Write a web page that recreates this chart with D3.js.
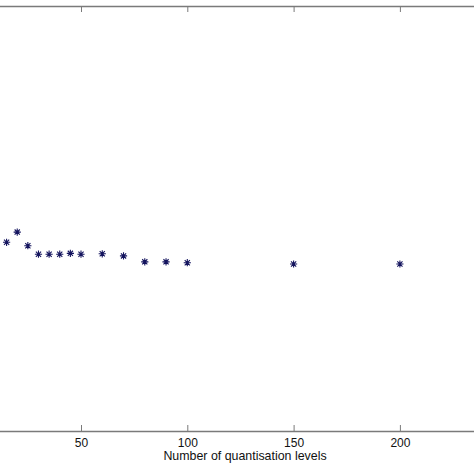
<!DOCTYPE html>
<html><head><meta charset="utf-8">
<script src="https://cdn.jsdelivr.net/npm/d3@7"></script>
<style>body{margin:0;background:#fff}svg{display:block}</style>
</head><body>
<script>
const levels = [10, 15, 20, 25, 30, 35, 40, 45, 50, 60, 70, 80, 90, 100, 150, 200];
const values = [0.492, 0.444, 0.468, 0.436, 0.416, 0.416, 0.416, 0.418, 0.416, 0.417, 0.412, 0.398, 0.398, 0.396, 0.393, 0.393];
const xTicks = [50, 100, 150, 200];
const xLabel = "Number of quantisation levels";

(function () {
const W = 474, H = 474;
const svg = d3.select("body").append("svg").attr("width", W).attr("height", H);
svg.append("rect").attr("width", W).attr("height", H).attr("fill", "#fff");

const x = d3.scaleLinear().domain([0, 250]).range([-25.3, 506.2]);
const y = d3.scaleLinear().domain([0, 1]).range([431, 6]);

const axisColor = "#7a7a7a";
const font = "'Liberation Sans', Arial, sans-serif";

const gBottom = svg.append("g").attr("transform", `translate(0,${y(0)})`)
  .call(d3.axisBottom(x).tickValues(xTicks).tickSize(-6).tickPadding(7).tickFormat(d3.format("d")));
const gTop = svg.append("g").attr("transform", `translate(0,${y(1)})`)
  .call(d3.axisTop(x).tickValues(xTicks).tickSize(-6).tickFormat(""));

[gBottom, gTop].forEach(g => {
  g.select(".domain").attr("stroke", axisColor).attr("stroke-width", 1.3);
  g.selectAll(".tick line").attr("stroke", axisColor).attr("stroke-width", 1);
  g.selectAll(".tick text").attr("fill", "#111").style("font-family", font).style("font-size", "12px");
});

svg.append("text").attr("x", 245).attr("y", 460).attr("text-anchor", "middle")
  .style("font-family", font).style("font-size", "12.4px").attr("fill", "#111").text(xLabel);

const r = 3.6, d = r * 0.72;
const star = `M${-r},0L${r},0M0,${-r}L0,${r}M${-d},${-d}L${d},${d}M${-d},${d}L${d},${-d}`;
svg.append("g").selectAll("path").data(levels.map((l, i) => [l, values[i]])).join("path")
  .attr("transform", p => `translate(${x(p[0])},${y(p[1])})`)
  .attr("d", star).attr("stroke", "#14145e").attr("stroke-width", 1.1).attr("fill", "none");
})();
</script>
</body></html>
